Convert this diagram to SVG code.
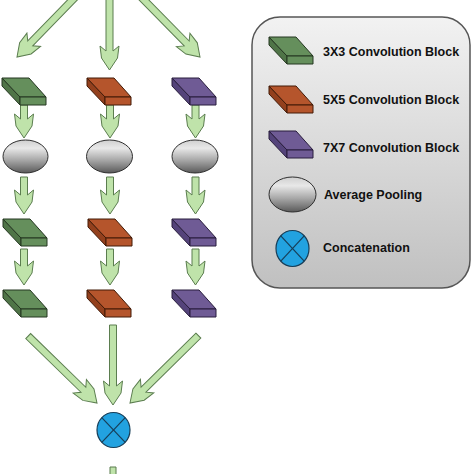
<svg xmlns="http://www.w3.org/2000/svg" width="474" height="474" viewBox="0 0 474 474">
<defs>
<linearGradient id="gLegend" x1="0" y1="0" x2="0" y2="1">
<stop offset="0" stop-color="#f2f2f2"/><stop offset="1" stop-color="#c0c0c0"/>
</linearGradient>
<linearGradient id="gPool" x1="0" y1="0" x2="0" y2="1">
<stop offset="0" stop-color="#cfcfcf"/><stop offset="0.25" stop-color="#e8e8e8"/><stop offset="0.6" stop-color="#a9a9a9"/><stop offset="1" stop-color="#5a5a5a"/>
</linearGradient>
</defs>
<style>
.arr{fill:#bfe3aa;stroke:#5b7d4f;stroke-width:1;stroke-linejoin:miter}
.green .top,.green .front{fill:#658f5c}.green .side{fill:#4f7447}.green path{stroke:#243620;stroke-width:1}
.orange .top,.orange .front{fill:#b5552c}.orange .side{fill:#93401d}.orange path{stroke:#421a07;stroke-width:1}
.purple .top,.purple .front{fill:#6f5b95}.purple .side{fill:#54437a}.purple path{stroke:#281d3c;stroke-width:1}
.pool{fill:url(#gPool);stroke:#2f2f2f;stroke-width:1}
.cat{fill:#22a2e0;stroke:#173e58;stroke-width:1.2}
.catx{stroke:#173e58;stroke-width:1.2}
.lbl{font-family:"Liberation Sans",Arial,sans-serif;font-weight:bold;font-size:12.5px;fill:#111}
</style>

<g id="connectors">
<path class="arr" transform="translate(17,57) rotate(44.2)" d="M-3.5,-100 H3.5 V-19 L9.5,-24 L8,-12 L0,0 L-8,-12 L-9.5,-24 L-3.5,-19 Z"/>
<path class="arr" transform="translate(109.5,70)" d="M-3.5,-80 H3.5 V-19 L9.5,-24 L8,-12 L0,0 L-8,-12 L-9.5,-24 L-3.5,-19 Z"/>
<path class="arr" transform="translate(200,57) rotate(-44.5)" d="M-3.5,-100 H3.5 V-19 L9.5,-24 L8,-12 L0,0 L-8,-12 L-9.5,-24 L-3.5,-19 Z"/>

<path class="arr" transform="translate(24,138)" d="M-3.5,-33 H3.5 V-19 L9.5,-24 L8,-12 L0,0 L-8,-12 L-9.5,-24 L-3.5,-19 Z"/>
<path class="arr" transform="translate(110,138)" d="M-3.5,-33 H3.5 V-19 L9.5,-24 L8,-12 L0,0 L-8,-12 L-9.5,-24 L-3.5,-19 Z"/>
<path class="arr" transform="translate(195.5,138)" d="M-3.5,-33 H3.5 V-19 L9.5,-24 L8,-12 L0,0 L-8,-12 L-9.5,-24 L-3.5,-19 Z"/>

<path class="arr" transform="translate(24,214)" d="M-3.5,-37 H3.5 V-19 L9.5,-24 L8,-12 L0,0 L-8,-12 L-9.5,-24 L-3.5,-19 Z"/>
<path class="arr" transform="translate(110,214)" d="M-3.5,-37 H3.5 V-19 L9.5,-24 L8,-12 L0,0 L-8,-12 L-9.5,-24 L-3.5,-19 Z"/>
<path class="arr" transform="translate(195.5,214)" d="M-3.5,-37 H3.5 V-19 L9.5,-24 L8,-12 L0,0 L-8,-12 L-9.5,-24 L-3.5,-19 Z"/>

<path class="arr" transform="translate(24,285)" d="M-3.5,-36 H3.5 V-19 L9.5,-24 L8,-12 L0,0 L-8,-12 L-9.5,-24 L-3.5,-19 Z"/>
<path class="arr" transform="translate(110,285)" d="M-3.5,-36 H3.5 V-19 L9.5,-24 L8,-12 L0,0 L-8,-12 L-9.5,-24 L-3.5,-19 Z"/>
<path class="arr" transform="translate(195.5,285)" d="M-3.5,-36 H3.5 V-19 L9.5,-24 L8,-12 L0,0 L-8,-12 L-9.5,-24 L-3.5,-19 Z"/>

<path class="arr" transform="translate(97,403) rotate(-45.8)" d="M-3.5,-96 H3.5 V-19 L9.5,-24 L8,-12 L0,0 L-8,-12 L-9.5,-24 L-3.5,-19 Z"/>
<path class="arr" transform="translate(113,405)" d="M-3.5,-80 H3.5 V-19 L9.5,-24 L8,-12 L0,0 L-8,-12 L-9.5,-24 L-3.5,-19 Z"/>
<path class="arr" transform="translate(130,403) rotate(45.4)" d="M-3.5,-96 H3.5 V-19 L9.5,-24 L8,-12 L0,0 L-8,-12 L-9.5,-24 L-3.5,-19 Z"/>

<path class="arr" d="M110,480 V467 H116 V480"/>
</g>

<g id="conv3-1" class="green" transform="translate(2,78)"><path class="side" d="M0,0 L18,19 L18,27 L0,8 Z"/><path class="top" d="M0,0 H27 L44,19 H18 Z"/><path class="front" d="M18,19 H44 V27 H18 Z"/></g>
<g id="conv5-1" class="orange" transform="translate(87,78)"><path class="side" d="M0,0 L18,19 L18,27 L0,8 Z"/><path class="top" d="M0,0 H27 L44,19 H18 Z"/><path class="front" d="M18,19 H44 V27 H18 Z"/></g>
<g id="conv7-1" class="purple" transform="translate(172,78)"><path class="side" d="M0,0 L18,19 L18,27 L0,8 Z"/><path class="top" d="M0,0 H27 L44,19 H18 Z"/><path class="front" d="M18,19 H44 V27 H18 Z"/></g>

<g id="pool-1"><ellipse class="pool" cx="25.5" cy="156.5" rx="22.5" ry="16.5"/></g>
<g id="pool-2"><ellipse class="pool" cx="109.5" cy="156.5" rx="23" ry="16.5"/></g>
<g id="pool-3"><ellipse class="pool" cx="195" cy="156.5" rx="23" ry="16.5"/></g>

<g id="conv3-2" class="green" transform="translate(3,219)"><path class="side" d="M0,0 L18,19 L18,27 L0,8 Z"/><path class="top" d="M0,0 H27 L44,19 H18 Z"/><path class="front" d="M18,19 H44 V27 H18 Z"/></g>
<g id="conv5-2" class="orange" transform="translate(88,219)"><path class="side" d="M0,0 L18,19 L18,27 L0,8 Z"/><path class="top" d="M0,0 H27 L44,19 H18 Z"/><path class="front" d="M18,19 H44 V27 H18 Z"/></g>
<g id="conv7-2" class="purple" transform="translate(172,219)"><path class="side" d="M0,0 L18,19 L18,27 L0,8 Z"/><path class="top" d="M0,0 H27 L44,19 H18 Z"/><path class="front" d="M18,19 H44 V27 H18 Z"/></g>

<g id="conv3-3" class="green" transform="translate(3,290)"><path class="side" d="M0,0 L18,19 L18,27 L0,8 Z"/><path class="top" d="M0,0 H27 L44,19 H18 Z"/><path class="front" d="M18,19 H44 V27 H18 Z"/></g>
<g id="conv5-3" class="orange" transform="translate(87,290)"><path class="side" d="M0,0 L18,19 L18,27 L0,8 Z"/><path class="top" d="M0,0 H27 L44,19 H18 Z"/><path class="front" d="M18,19 H44 V27 H18 Z"/></g>
<g id="conv7-3" class="purple" transform="translate(172,290)"><path class="side" d="M0,0 L18,19 L18,27 L0,8 Z"/><path class="top" d="M0,0 H27 L44,19 H18 Z"/><path class="front" d="M18,19 H44 V27 H18 Z"/></g>

<g id="concat">
<ellipse class="cat" cx="113.5" cy="430" rx="16.5" ry="17.5"/>
<line class="catx" x1="101.8" y1="417.6" x2="125.2" y2="442.4"/>
<line class="catx" x1="125.2" y1="417.6" x2="101.8" y2="442.4"/>
</g>

<g id="legend">
<rect x="252" y="17" width="218" height="271" rx="28" ry="28" fill="url(#gLegend)" stroke="#555" stroke-width="1.5"/>
<g class="green" transform="translate(269,37)"><path class="side" d="M0,0 L18,19 L18,27 L0,8 Z"/><path class="top" d="M0,0 H27 L44,19 H18 Z"/><path class="front" d="M18,19 H44 V27 H18 Z"/></g>
<text class="lbl" x="323" y="56">3X3 Convolution Block</text>
<g class="orange" transform="translate(269,86)"><path class="side" d="M0,0 L18,19 L18,27 L0,8 Z"/><path class="top" d="M0,0 H27 L44,19 H18 Z"/><path class="front" d="M18,19 H44 V27 H18 Z"/></g>
<text class="lbl" x="323" y="104">5X5 Convolution Block</text>
<g class="purple" transform="translate(269,131)"><path class="side" d="M0,0 L18,19 L18,27 L0,8 Z"/><path class="top" d="M0,0 H27 L44,19 H18 Z"/><path class="front" d="M18,19 H44 V27 H18 Z"/></g>
<text class="lbl" x="323" y="152">7X7 Convolution Block</text>
<ellipse class="pool" cx="292.5" cy="194.5" rx="23.5" ry="17.5"/>
<text class="lbl" x="324" y="199">Average Pooling</text>
<ellipse class="cat" cx="292.5" cy="248.5" rx="16.5" ry="18"/>
<line class="catx" x1="280.8" y1="235.8" x2="304.2" y2="261.2"/>
<line class="catx" x1="304.2" y1="235.8" x2="280.8" y2="261.2"/>
<text class="lbl" x="323" y="252">Concatenation</text>
</g>
</svg>
